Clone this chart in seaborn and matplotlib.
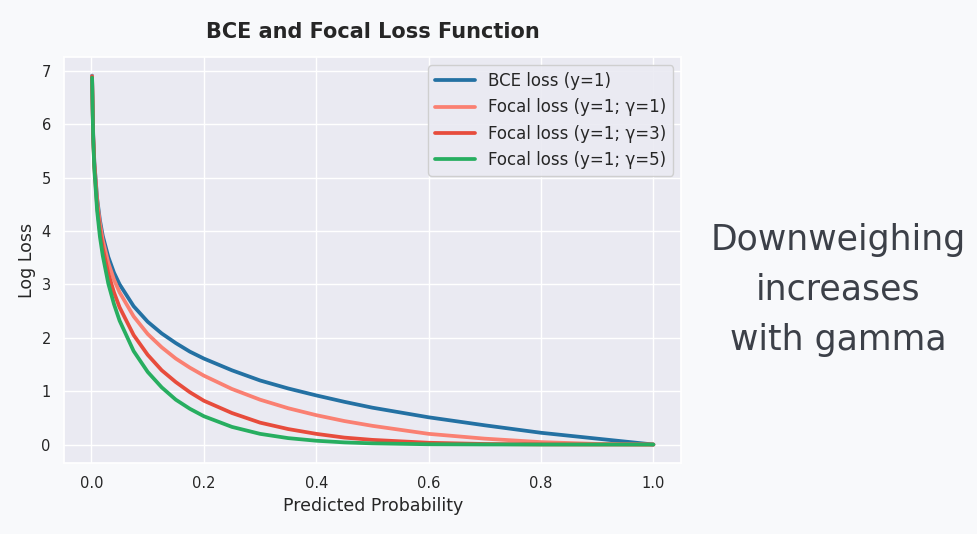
import numpy as np
import pandas as pd
import matplotlib.pyplot as plt
import seaborn as sns

# values
prob = [0.001, 0.003, 0.005, 0.01, 0.015, 0.02, 0.03, 0.04, 0.05, 0.075, 0.1,
        0.125, 0.15, 0.175, 0.2, 0.25, 0.3, 0.35, 0.4, 0.45, 0.5, 0.6, 0.7,
        0.8, 0.9, 1.0]
bce_loss = [6.91, 5.81, 5.30, 4.61, 4.20, 3.91, 3.51, 3.22, 3.00, 2.59, 2.30,
            2.08, 1.90, 1.74, 1.61, 1.39, 1.20, 1.05, 0.92, 0.80, 0.69, 0.51,
            0.36, 0.22, 0.11, 0.0]
focal_g1 = [6.90, 5.79, 5.27, 4.56, 4.14, 3.83, 3.40, 3.09, 2.85, 2.40, 2.07,
            1.82, 1.61, 1.44, 1.29, 1.04, 0.84, 0.68, 0.55, 0.44, 0.35, 0.20,
            0.11, 0.045, 0.011, 0.0]
focal_g3 = [6.89, 5.76, 5.22, 4.47, 4.01, 3.68, 3.20, 2.85, 2.57, 2.05, 1.68,
            1.39, 1.17, 0.98, 0.82, 0.59, 0.41, 0.29, 0.20, 0.13, 0.087, 0.033,
            0.010, 0.002, 0.0, 0.0]
focal_g5 = [6.87, 5.72, 5.17, 4.38, 3.89, 3.54, 3.01, 2.63, 2.32, 1.75, 1.36,
            1.07, 0.84, 0.67, 0.53, 0.33, 0.20, 0.12, 0.071, 0.040, 0.022,
            0.005, 0.001, 0.0, 0.0, 0.0]

labels = ['BCE loss (y=1)', 'Focal loss (y=1; γ=1)',
          'Focal loss (y=1; γ=3)', 'Focal loss (y=1; γ=5)']
colors = ['#2471a3', '#fa8072', '#e74c3c', '#27ae60']

sns.set_theme(style='darkgrid')
plt.rcParams['font.family'] = ['DejaVu Sans']

df = pd.DataFrame({'p': prob, labels[0]: bce_loss, labels[1]: focal_g1,
                   labels[2]: focal_g3, labels[3]: focal_g5})
df_long = df.melt(id_vars='p', var_name='curve', value_name='loss')

fig = plt.figure(figsize=(9.77, 5.34), dpi=100, facecolor='#f8f9fb')
ax = fig.add_axes([0.0655, 0.133, 0.632, 0.760])

sns.lineplot(data=df_long, x='p', y='loss', hue='curve', hue_order=labels,
             palette=colors, linewidth=2.7, ax=ax, sort=False)

ax.set_title('BCE and Focal Loss Function', fontsize=15, fontweight='bold', pad=14)
ax.set_xlabel('Predicted Probability', fontsize=12.5)
ax.set_ylabel('Log Loss', fontsize=12.5)
ax.tick_params(labelsize=10.5)
ax.legend(loc='upper right', fontsize=12, frameon=True, handlelength=2.4,
          framealpha=0.9)

fig.text(0.858, 0.457, 'Downweighing\nincreases\nwith gamma', ha='center',
         va='center', fontsize=25, color='#3c4048', linespacing=1.6)

fig.savefig('out.png', dpi=100, facecolor=fig.get_facecolor())
